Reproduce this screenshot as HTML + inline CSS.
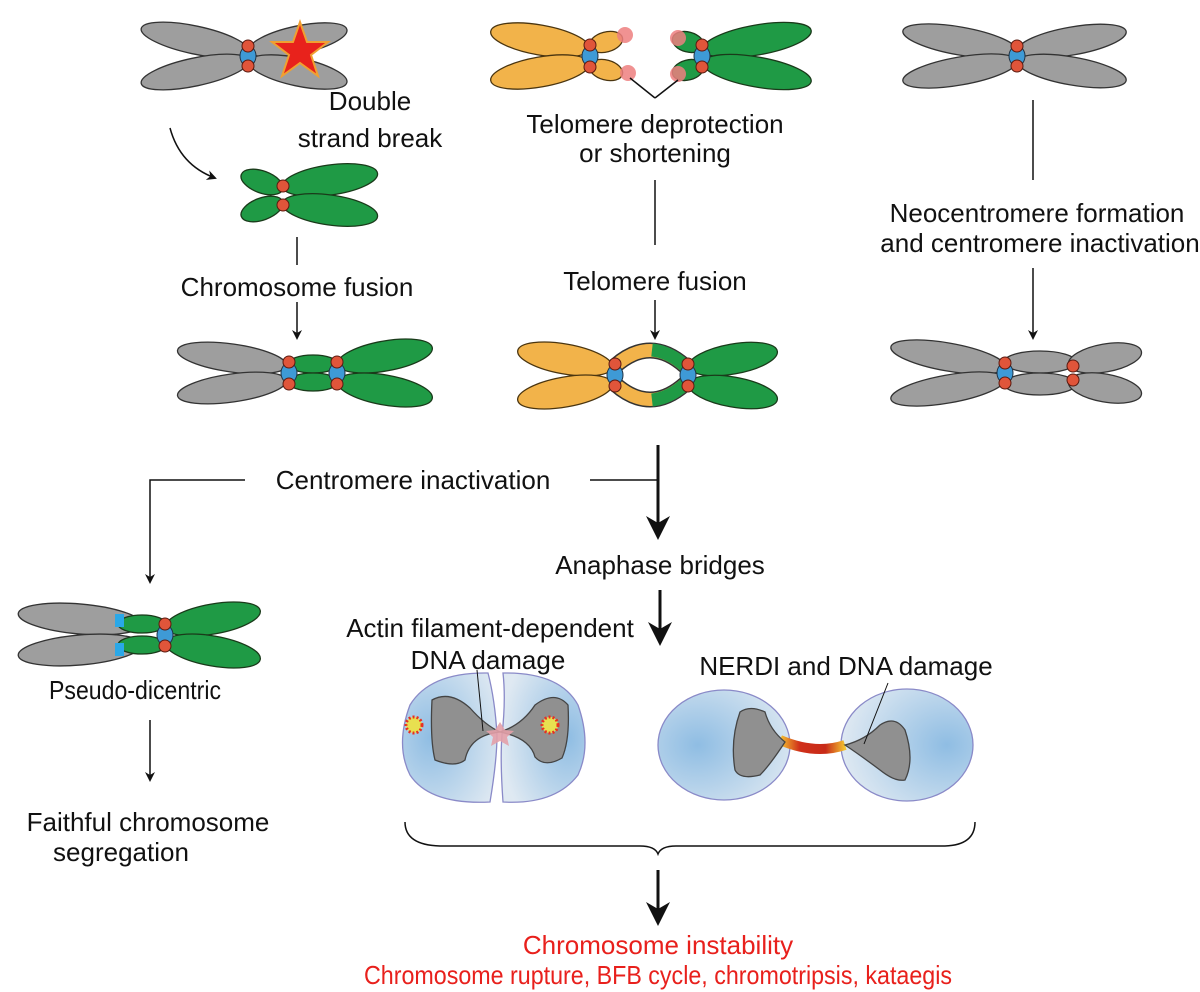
<!DOCTYPE html>
<html><head><meta charset="utf-8"><style>
body{margin:0;background:#fff}
svg{display:block}
text{font-family:"Liberation Sans",sans-serif;font-size:26px;fill:#111;text-anchor:middle}
.g{fill:#9e9e9e;stroke:#333;stroke-width:1.3}
.gr{fill:#1f9a45;stroke:#1a3a1a;stroke-width:1.3}
.o{fill:#f2b34a;stroke:#4a3510;stroke-width:1.3}
.c{fill:#3e9ad6;stroke:#234;stroke-width:1}
.r{fill:#e0553a;stroke:#5a1a10;stroke-width:1}
.ln{stroke:#111;stroke-width:1.5;fill:none}
.th{stroke:#111;stroke-width:3;fill:none}
</style></head><body>
<svg width="1200" height="992" viewBox="0 0 1200 992" xmlns="http://www.w3.org/2000/svg">
<defs>
<marker id="a" markerWidth="10" markerHeight="10" refX="8" refY="5" orient="auto" markerUnits="userSpaceOnUse"><path d="M0,0 L10,5 L0,10 L3,5z" fill="#111"/></marker>
<marker id="b" markerWidth="24" markerHeight="24" refX="20" refY="12" orient="auto" markerUnits="userSpaceOnUse"><path d="M0,0 L24,12 L0,24 L7,12z" fill="#111"/></marker>
<radialGradient id="cell" cx="0.3" cy="0.5" r="0.8"><stop offset="0" stop-color="#8fbde3"/><stop offset="1" stop-color="#dfe9f2"/></radialGradient>
<radialGradient id="cell2" cx="0.8" cy="0.5" r="0.8"><stop offset="0" stop-color="#8fbde3"/><stop offset="1" stop-color="#dfe9f2"/></radialGradient>
<linearGradient id="br" x1="0" x2="1"><stop offset="0" stop-color="#f4c430"/><stop offset=".3" stop-color="#d0301a"/><stop offset=".7" stop-color="#c82a18"/><stop offset="1" stop-color="#f4c430"/></linearGradient>
</defs>

<!-- top-left -->
<g>
<ellipse class="g" cx="195" cy="40" rx="55" ry="14" transform="rotate(12 195 40)"/>
<ellipse class="g" cx="195" cy="72" rx="55" ry="14" transform="rotate(-12 195 72)"/>
<ellipse class="g" cx="298" cy="40" rx="50" ry="14" transform="rotate(-12 298 40)"/>
<ellipse class="g" cx="298" cy="72" rx="50" ry="14" transform="rotate(12 298 72)"/>
<ellipse class="c" cx="248" cy="56" rx="8" ry="10"/>
<circle class="r" cx="248" cy="46" r="6"/><circle class="r" cx="248" cy="66" r="6"/>
<polygon points="300,22 307,42 328,42 311,55 318,76 300,63 282,76 289,55 272,42 293,42" fill="#e8221c" stroke="#f0a030" stroke-width="2"/>
</g>
<text x="370" y="110">Double</text><text x="370" y="147">strand break</text>
<path class="ln" d="M170,128 Q180,165 215,178" marker-end="url(#a)"/>
<g>
<ellipse class="gr" cx="262" cy="182" rx="22" ry="11" transform="rotate(20 262 182)"/>
<ellipse class="gr" cx="262" cy="209" rx="22" ry="11" transform="rotate(-20 262 209)"/>
<ellipse class="gr" cx="330" cy="180" rx="48" ry="15" transform="rotate(-8 330 180)"/>
<ellipse class="gr" cx="330" cy="210" rx="48" ry="15" transform="rotate(8 330 210)"/>
<circle class="r" cx="283" cy="186" r="6"/><circle class="r" cx="283" cy="205" r="6"/>
</g>
<line class="ln" x1="297" y1="237" x2="297" y2="265"/>
<text x="297" y="296">Chromosome fusion</text>
<line class="ln" x1="297" y1="302" x2="297" y2="338" marker-end="url(#a)"/>
<g>
<ellipse class="g" cx="232" cy="358" rx="55" ry="14" transform="rotate(8 232 358)"/>
<ellipse class="g" cx="232" cy="388" rx="55" ry="14" transform="rotate(-8 232 388)"/>
<ellipse class="gr" cx="313" cy="364" rx="25" ry="9"/>
<ellipse class="gr" cx="313" cy="382" rx="25" ry="9"/>
<ellipse class="gr" cx="385" cy="356" rx="48" ry="15" transform="rotate(-10 385 356)"/>
<ellipse class="gr" cx="385" cy="390" rx="48" ry="15" transform="rotate(10 385 390)"/>
<ellipse class="c" cx="289" cy="373" rx="8" ry="10"/><circle class="r" cx="289" cy="362" r="6"/><circle class="r" cx="289" cy="384" r="6"/>
<ellipse class="c" cx="337" cy="373" rx="8" ry="10"/><circle class="r" cx="337" cy="362" r="6"/><circle class="r" cx="337" cy="384" r="6"/>
</g>

<!-- top-middle -->
<g>
<ellipse class="o" cx="540" cy="40" rx="50" ry="15" transform="rotate(10 540 40)"/>
<ellipse class="o" cx="540" cy="72" rx="50" ry="15" transform="rotate(-10 540 72)"/>
<ellipse class="o" cx="606" cy="42" rx="17" ry="10" transform="rotate(-15 606 42)"/>
<ellipse class="o" cx="606" cy="70" rx="17" ry="10" transform="rotate(15 606 70)"/>
<ellipse class="c" cx="590" cy="56" rx="8" ry="10"/><circle class="r" cx="590" cy="45" r="6"/><circle class="r" cx="590" cy="67" r="6"/>
<ellipse class="gr" cx="688" cy="42" rx="16" ry="10" transform="rotate(15 688 42)"/>
<ellipse class="gr" cx="688" cy="70" rx="16" ry="10" transform="rotate(-15 688 70)"/>
<ellipse class="gr" cx="757" cy="40" rx="55" ry="15" transform="rotate(-10 757 40)"/>
<ellipse class="gr" cx="757" cy="72" rx="55" ry="15" transform="rotate(10 757 72)"/>
<ellipse class="c" cx="702" cy="56" rx="8" ry="10"/><circle class="r" cx="702" cy="45" r="6"/><circle class="r" cx="702" cy="67" r="6"/>
<g fill="#ee8080" opacity=".85"><circle cx="625" cy="35" r="8"/><circle cx="628" cy="73" r="8"/><circle cx="678" cy="38" r="8"/><circle cx="678" cy="74" r="8"/></g>
<line class="ln" x1="655" y1="98" x2="630" y2="78"/><line class="ln" x1="655" y1="98" x2="678" y2="80"/>
</g>
<text x="655" y="133">Telomere deprotection</text>
<text x="655" y="162">or shortening</text>
<line class="ln" x1="655" y1="180" x2="655" y2="245"/>
<text x="655" y="290">Telomere fusion</text>
<line class="ln" x1="655" y1="300" x2="655" y2="338" marker-end="url(#a)"/>
<g>
<ellipse class="o" cx="565" cy="359" rx="48" ry="15" transform="rotate(10 565 359)"/>
<ellipse class="o" cx="565" cy="392" rx="48" ry="15" transform="rotate(-10 565 392)"/>
<path d="M615,366 Q650,335 685,366" fill="none" stroke="#333" stroke-width="16"/>
<path d="M615,366 Q650,335 685,366" fill="none" stroke="#f2b34a" stroke-width="13"/>
<path d="M615,384 Q650,415 685,384" fill="none" stroke="#333" stroke-width="16"/>
<path d="M615,384 Q650,415 685,384" fill="none" stroke="#f2b34a" stroke-width="13"/>
<path d="M652,350 Q670,352 685,366" fill="none" stroke="#1f9a45" stroke-width="13"/>
<path d="M652,400 Q670,398 685,384" fill="none" stroke="#1f9a45" stroke-width="13"/>
<ellipse class="gr" cx="733" cy="359" rx="45" ry="15" transform="rotate(-10 733 359)"/>
<ellipse class="gr" cx="733" cy="392" rx="45" ry="15" transform="rotate(10 733 392)"/>
<ellipse class="c" cx="615" cy="375" rx="8" ry="10"/><circle class="r" cx="615" cy="364" r="6"/><circle class="r" cx="615" cy="386" r="6"/>
<ellipse class="c" cx="688" cy="375" rx="8" ry="10"/><circle class="r" cx="688" cy="364" r="6"/><circle class="r" cx="688" cy="386" r="6"/>
</g>

<!-- right -->
<g>
<ellipse class="g" cx="960" cy="41" rx="58" ry="14" transform="rotate(10 960 41)"/>
<ellipse class="g" cx="960" cy="71" rx="58" ry="14" transform="rotate(-10 960 71)"/>
<ellipse class="g" cx="1072" cy="41" rx="55" ry="14" transform="rotate(-10 1072 41)"/>
<ellipse class="g" cx="1072" cy="71" rx="55" ry="14" transform="rotate(10 1072 71)"/>
<ellipse class="c" cx="1017" cy="56" rx="8" ry="10"/><circle class="r" cx="1017" cy="46" r="6"/><circle class="r" cx="1017" cy="66" r="6"/>
</g>
<line class="ln" x1="1033" y1="100" x2="1033" y2="180"/>
<text x="1037" y="222">Neocentromere formation</text>
<text x="1040" y="252">and centromere inactivation</text>
<line class="ln" x1="1033" y1="268" x2="1033" y2="338" marker-end="url(#a)"/>
<g>
<ellipse class="g" cx="948" cy="357" rx="58" ry="14" transform="rotate(10 948 357)"/>
<ellipse class="g" cx="948" cy="389" rx="58" ry="14" transform="rotate(-10 948 389)"/>
<ellipse class="g" cx="1040" cy="362" rx="36" ry="11"/>
<ellipse class="g" cx="1040" cy="384" rx="36" ry="11"/>
<ellipse class="g" cx="1105" cy="358" rx="37" ry="14" transform="rotate(-10 1105 358)"/>
<ellipse class="g" cx="1105" cy="388" rx="37" ry="14" transform="rotate(10 1105 388)"/>
<ellipse class="c" cx="1005" cy="373" rx="8" ry="10"/><circle class="r" cx="1005" cy="363" r="6"/><circle class="r" cx="1005" cy="383" r="6"/>
<circle class="r" cx="1073" cy="366" r="6"/><circle class="r" cx="1073" cy="380" r="6"/>
</g>

<!-- middle flow -->
<text x="413" y="489">Centromere inactivation</text>
<path class="ln" d="M245,480 H150 V582" marker-end="url(#a)"/>
<line class="ln" x1="590" y1="480" x2="658" y2="480"/>
<line class="th" x1="658" y1="445" x2="658" y2="536" marker-end="url(#b)"/>
<text x="660" y="574">Anaphase bridges</text>
<line class="th" x1="660" y1="590" x2="660" y2="642" marker-end="url(#b)"/>

<!-- pseudo-dicentric -->
<g>
<ellipse class="g" cx="80" cy="619" rx="62" ry="15" transform="rotate(5 80 619)"/>
<ellipse class="g" cx="80" cy="650" rx="62" ry="15" transform="rotate(-5 80 650)"/>
<ellipse class="gr" cx="142" cy="624" rx="24" ry="9"/>
<ellipse class="gr" cx="142" cy="645" rx="24" ry="9"/>
<rect x="115" y="614" width="9" height="13" fill="#2aa8e8"/><rect x="115" y="643" width="9" height="13" fill="#2aa8e8"/>
<ellipse class="gr" cx="213" cy="619" rx="48" ry="15" transform="rotate(-10 213 619)"/>
<ellipse class="gr" cx="213" cy="651" rx="48" ry="15" transform="rotate(10 213 651)"/>
<ellipse class="c" cx="165" cy="635" rx="8" ry="10"/><circle class="r" cx="165" cy="624" r="6"/><circle class="r" cx="165" cy="646" r="6"/>
</g>
<text x="135" y="699" textLength="172" lengthAdjust="spacingAndGlyphs">Pseudo-dicentric</text>
<line class="ln" x1="150" y1="720" x2="150" y2="780" marker-end="url(#a)"/>
<text x="148" y="831">Faithful chromosome</text>
<text x="121" y="861">segregation</text>

<text x="490" y="637">Actin filament-dependent</text>
<text x="488" y="669">DNA damage</text>
<text x="846" y="675">NERDI and DNA damage</text>

<!-- left cell -->
<path d="M488,673 Q430,672 410,705 Q395,745 410,775 Q430,805 490,802 Q497,760 497,735 Q495,700 488,673 Z" fill="url(#cell)" stroke="#8a8ac8" stroke-width="1.3"/>
<path d="M503,673 Q560,672 578,705 Q592,745 578,775 Q555,805 503,802 Q500,760 502,735 Q506,700 503,673 Z" fill="url(#cell2)" stroke="#8a8ac8" stroke-width="1.3"/>
<path d="M432,700 Q450,690 470,708 Q485,725 500,732 Q470,735 465,760 Q455,768 435,760 Q430,740 432,700Z" fill="#909090" stroke="#444" stroke-width="1.3"/>
<path d="M568,705 Q555,690 535,705 Q522,725 500,732 Q530,738 535,757 Q545,768 562,758 Q570,740 568,705Z" fill="#909090" stroke="#444" stroke-width="1.3"/>
<polygon points="500,722 505,730 514,731 507,737 509,746 500,741 491,746 493,737 486,731 495,730" fill="#e3a0a8" opacity=".9"/>
<line class="ln" x1="477" y1="670" x2="483" y2="731" style="stroke-width:1"/>
<circle cx="414" cy="725" r="8" fill="#e8e050" stroke="#e83020" stroke-width="3" stroke-dasharray="2 2"/>
<circle cx="550" cy="725" r="8" fill="#e8e050" stroke="#e83020" stroke-width="3" stroke-dasharray="2 2"/>
<!-- right cell -->
<ellipse cx="724" cy="745" rx="66" ry="55" fill="url(#cell)" stroke="#8a8ac8" stroke-width="1.3"/>
<ellipse cx="907" cy="745" rx="66" ry="56" fill="url(#cell2)" stroke="#8a8ac8" stroke-width="1.3"/>
<path d="M780,740 Q815,755 845,745" stroke="url(#br)" stroke-width="10" fill="none"/>
<path d="M740,712 Q750,705 765,712 Q770,730 785,742 Q770,765 760,775 Q740,780 735,770 Q730,740 740,712Z" fill="#909090" stroke="#444" stroke-width="1.3"/>
<path d="M880,725 Q895,715 905,730 Q915,760 905,780 Q895,782 880,770 Q860,755 845,745 Q865,740 880,725Z" fill="#909090" stroke="#444" stroke-width="1.3"/>
<line class="ln" x1="888" y1="683" x2="864" y2="744" style="stroke-width:1"/>

<path class="ln" d="M405,822 Q405,845 440,846 L640,846 Q655,846 658,854 Q661,846 676,846 L945,846 Q975,845 975,822"/>
<line class="th" x1="658" y1="870" x2="658" y2="922" marker-end="url(#b)"/>
<text x="658" y="954" style="fill:#e8201c">Chromosome instability</text>
<text x="658" y="984" style="fill:#e8201c" textLength="588" lengthAdjust="spacingAndGlyphs">Chromosome rupture, BFB cycle, chromotripsis, kataegis</text>
</svg>
</body></html>
